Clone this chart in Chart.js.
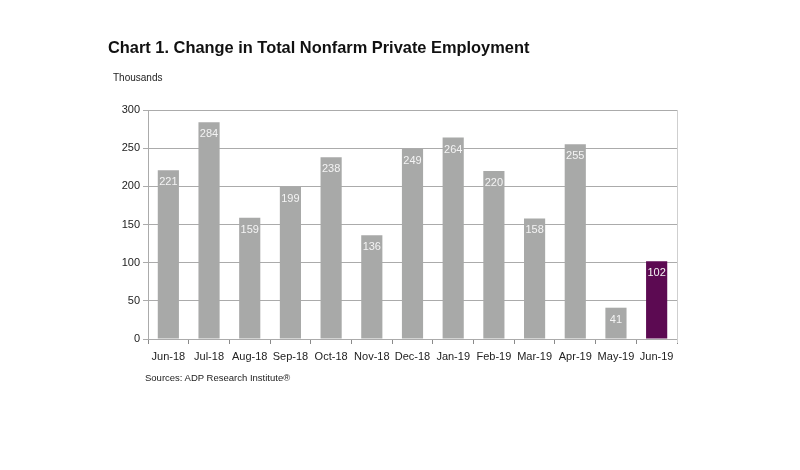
<!DOCTYPE html>
<html>
<head>
<meta charset="utf-8">
<script src="https://cdn.jsdelivr.net/npm/chart.js@4.4.0/dist/chart.umd.min.js"></script>
<style>
  body { margin: 0; background: #fff; font-family: "Liberation Sans", Arial, sans-serif; }
  #wrap { position: relative; width: 800px; height: 470px; }
  #chart { position: absolute; left: 0; top: 0; }
  .txt { position: absolute; color: #111; white-space: nowrap; }
  #title { left: 108px; top: 38px; font-size: 16.4px; font-weight: bold; }
  #units { left: 113px; top: 72px; font-size: 10px; color: #222; }
  #source { left: 145px; top: 372px; font-size: 9.5px; color: #222; }
</style>
</head>
<body>
<div id="wrap">
  <canvas id="chart" width="800" height="470"></canvas>
  <div class="txt" id="title">Chart 1. Change in Total Nonfarm Private Employment</div>
  <div class="txt" id="units">Thousands</div>
  <div class="txt" id="source">Sources: ADP Research Institute®</div>
</div>
<script>
// Datos del gráfico
const meses = ['Jun-18', 'Jul-18', 'Aug-18', 'Sep-18', 'Oct-18', 'Nov-18', 'Dec-18',
               'Jan-19', 'Feb-19', 'Mar-19', 'Apr-19', 'May-19', 'Jun-19'];
const empleo = [221, 284, 159, 199, 238, 136, 249, 264, 220, 158, 255, 41, 102];
const ticksY = [0, 50, 100, 150, 200, 250, 300];

const gris = '#a8a9a8';
const morado = '#5c0a52';
const coloresBarras = empleo.map((v, i) => i === empleo.length - 1 ? morado : gris);

// Plugin simple: etiquetas blancas dentro de la barra + borde derecho
const etiquetasPlugin = {
    id: 'etiquetas',
    afterDatasetsDraw(chart) {
        const ctx = chart.ctx;
        const meta = chart.getDatasetMeta(0);
        ctx.save();
        ctx.font = '11px "Liberation Sans", Arial, sans-serif';
        ctx.fillStyle = '#f4f4f4';
        ctx.textAlign = 'center';
        ctx.textBaseline = 'middle';
        meta.data.forEach((bar, i) => {
            ctx.fillText(String(empleo[i]), bar.x, bar.y + 12);
        });
        // borde derecho del área
        const a = chart.chartArea;
        ctx.strokeStyle = '#cfcfcf';
        ctx.lineWidth = 1;
        ctx.beginPath();
        ctx.moveTo(Math.round(a.right) + 0.5, a.top);
        ctx.lineTo(Math.round(a.right) + 0.5, a.bottom + 4);
        ctx.stroke();
        ctx.restore();
    }
};

new Chart(document.getElementById('chart'), {
    type: 'bar',
    data: {
        labels: meses,
        datasets: [{
            data: empleo,
            backgroundColor: coloresBarras,
            borderWidth: 0,
            barPercentage: 0.52,
            categoryPercentage: 1
        }]
    },
    options: {
        responsive: false,
        animation: false,
        layout: { padding: { left: 100, right: 123, top: 110, bottom: 106 } },
        plugins: {
            legend: { display: false },
            tooltip: { enabled: false }
        },
        scales: {
            y: {
                min: 0,
                max: 300,
                afterFit: (s) => { s.width = 48; },
                afterBuildTicks: (s) => { s.ticks = ticksY.map(v => ({ value: v })); },
                grid: { color: '#ababab', lineWidth: 1, tickLength: 5, tickColor: '#ababab' },
                border: { color: '#ababab' },
                ticks: {
                    color: '#222',
                    padding: 3,
                    font: { family: '"Liberation Sans", Arial, sans-serif', size: 11 }
                }
            },
            x: {
                afterFit: (s) => { s.height = 25; },
                grid: { display: true, drawOnChartArea: false, offset: true, tickLength: 5, color: '#8a8a8a' },
                border: { color: '#ababab' },
                ticks: {
                    color: '#222',
                    padding: 6,
                    maxRotation: 0,
                    autoSkip: false,
                    font: { family: '"Liberation Sans", Arial, sans-serif', size: 11 }
                }
            }
        }
    },
    plugins: [etiquetasPlugin]
});
</script>
</body>
</html>
